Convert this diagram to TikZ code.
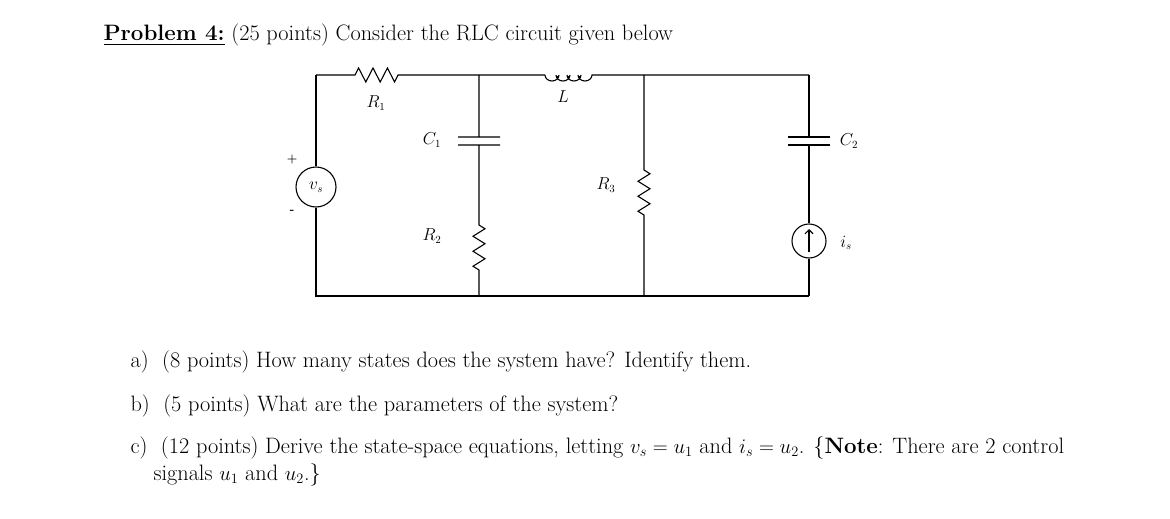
\documentclass[tikz,border=0pt]{standalone}
\usetikzlibrary{arrows.meta}
\usepackage{amsmath}
\begin{document}
\begin{tikzpicture}[x=1pt,y=-1pt,line width=1.1pt,
  lbl/.style={inner sep=0pt,font=\fontsize{16}{18}\selectfont},
  txt/.style={anchor=base west,inner sep=0pt,font=\fontsize{22.3}{26}\selectfont}]
\useasboundingbox (0,0) rectangle (1170,519);
% text
\node[txt] (t) at (103,41) {\underline{\textbf{Problem 4:}} (25 points) Consider the RLC circuit given below};
\node[txt] (a) at (130,367) {a)\ \ (8 points) How many states does the system have? Identify them.};
\node[txt] (b) at (130,411) {b)\ \ (5 points) What are the parameters of the system?};
\node[txt] (c) at (130,453) {c)\ \ (12 points) Derive the state-space equations, letting $v_s=u_1$ and $i_s=u_2$. \{\textbf{Note}: There are 2 control};
\node[txt] (c2) at (153,480) {signals $u_1$ and $u_2$.\}};
% nodes
\coordinate (TL) at (316,75); \coordinate (BL) at (316,296);
\coordinate (T1) at (479,75); \coordinate (B1) at (479,296);
\coordinate (T3) at (644,75); \coordinate (B3) at (644,296);
\coordinate (TR) at (809,75); \coordinate (BR) at (809,296);
\node[circle,draw,minimum size=40pt,inner sep=0pt,lbl] (vs) at (316,187) {$v_s$};
\node[circle,draw,minimum size=34pt,inner sep=0pt] (is) at (809,241) {};
\draw[-{Straight Barb[length=4pt]}] (809,252) -- (809,229);
% left branch
\draw (TL) -- (vs.north) (vs.south) -- (BL) -- (BR);
\draw (TL) -- (355,75) -- (358.6,68) -- (365.8,82) -- (373,68) -- (380.2,82) -- (387.4,68) -- (394.6,82) -- (398,75) -- (T1) -- (545,75);
% inductor
\draw (545,75) arc(180:0:7 and 6) arc(180:0:-1.5 and 2) arc(180:0:7 and 6) arc(180:0:-1.5 and 2) arc(180:0:7 and 6) arc(180:0:-1.5 and 2) arc(180:0:7 and 6) -- (TR);
% C1 / R2
\draw (T1) -- (479,137) (458,137) -- (500,137) (458,145) -- (500,145) (479,145) -- (479,225)
 -- (485,228.75) -- (473,236.25) -- (485,243.75) -- (473,251.25) -- (485,258.75) -- (473,266.25) -- (479,270) -- (B1);
% R3
\draw (T3) -- (644,170) -- (650,173.75) -- (638,181.25) -- (650,188.75) -- (638,196.25) -- (650,203.75) -- (638,211.25) -- (644,215) -- (B3);
% C2 / is
\draw (TR) -- (809,137) (788,137) -- (830,137) (788,145) -- (830,145) (809,145) -- (is.north) (is.south) -- (BR);
% labels
\node[lbl] (lR1) at (376,103) {$R_1$};
\node[lbl] (lL) at (563,97) {$L$};
\node[lbl] (lC1) at (432,140) {$C_1$};
\node[lbl] (lR2) at (432,236) {$R_2$};
\node[lbl] (lR3) at (606,185) {$R_3$};
\node[lbl] (lC2) at (849,141) {$C_2$};
\node[lbl] (lis) at (846,243) {$i_s$};
\node[lbl,font=\large\bfseries] (pl) at (292,160) {+};
\node[lbl,font=\large\bfseries] (mi) at (292,212) {-};
\end{tikzpicture}
\end{document}
